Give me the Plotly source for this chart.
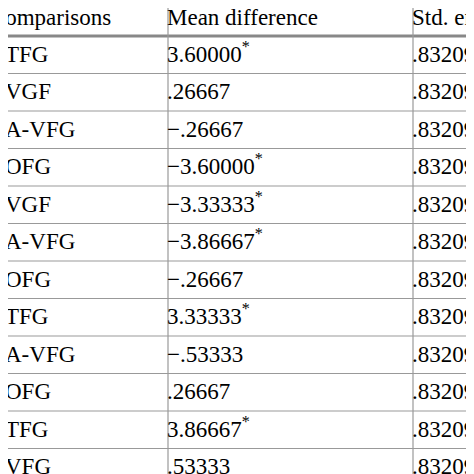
import plotly.graph_objects as go

comparisons = ["TFG", "VGF", "A-VFG", "OFG", "VGF", "A-VFG", "OFG", "TFG", "A-VFG", "OFG", "TFG", "VFG"]
mean_diff = ["3.60000<sup>*</sup>", ".26667", "\u2212.26667", "\u22123.60000<sup>*</sup>",
             "\u22123.33333<sup>*</sup>", "\u22123.86667<sup>*</sup>", "\u2212.26667", "3.33333<sup>*</sup>",
             "\u2212.53333", ".26667", "3.86667<sup>*</sup>", ".53333"]
std_err = [".83209"] * 12
headers = ["comparisons", "Mean difference", "Std. error"]

W = 474
head_bottom = 28
row_h = 37.5
# scatter text adds a few px of padding, so shift left
col_x = [-13, 159, 404]
text_x = [-3, 159, 404]
vlines = [160, 405]

font = dict(family="Liberation Serif", size=23, color="black")
fig = go.Figure()

fig.add_trace(go.Scatter(x=col_x, y=[11] * 3, text=headers, mode="text",
                         textposition="middle right", textfont=font,
                         cliponaxis=True, hoverinfo="skip"))

ys = [head_bottom + row_h * (i + 0.5) + 1 for i in range(len(comparisons))]
for cx, col in zip(text_x, [comparisons, mean_diff, std_err]):
    fig.add_trace(go.Scatter(x=[cx] * len(col), y=ys, text=col, mode="text",
                             textposition="middle right", textfont=font,
                             cliponaxis=True, hoverinfo="skip"))

shapes = [dict(type="line", x0=0, x1=W, y0=head_bottom, y1=head_bottom,
               line=dict(color="#888888", width=3), layer="below")]
for i in range(1, len(comparisons) + 1):
    y = head_bottom + row_h * i
    shapes.append(dict(type="line", x0=0, x1=W, y0=y, y1=y,
                       line=dict(color="#999999", width=1.2), layer="below"))
for x in vlines:
    shapes.append(dict(type="line", x0=x, x1=x, y0=0, y1=W,
                       line=dict(color="#999999", width=1.2), layer="below"))

fig.update_layout(
    width=W, height=W, margin=dict(l=0, r=0, t=0, b=0),
    paper_bgcolor="white", plot_bgcolor="white", showlegend=False,
    xaxis=dict(range=[0, W], visible=False, fixedrange=True),
    yaxis=dict(range=[W, 0], visible=False, fixedrange=True),
    shapes=shapes,
)
fig.write_html("out.html", config={"displayModeBar": False})
